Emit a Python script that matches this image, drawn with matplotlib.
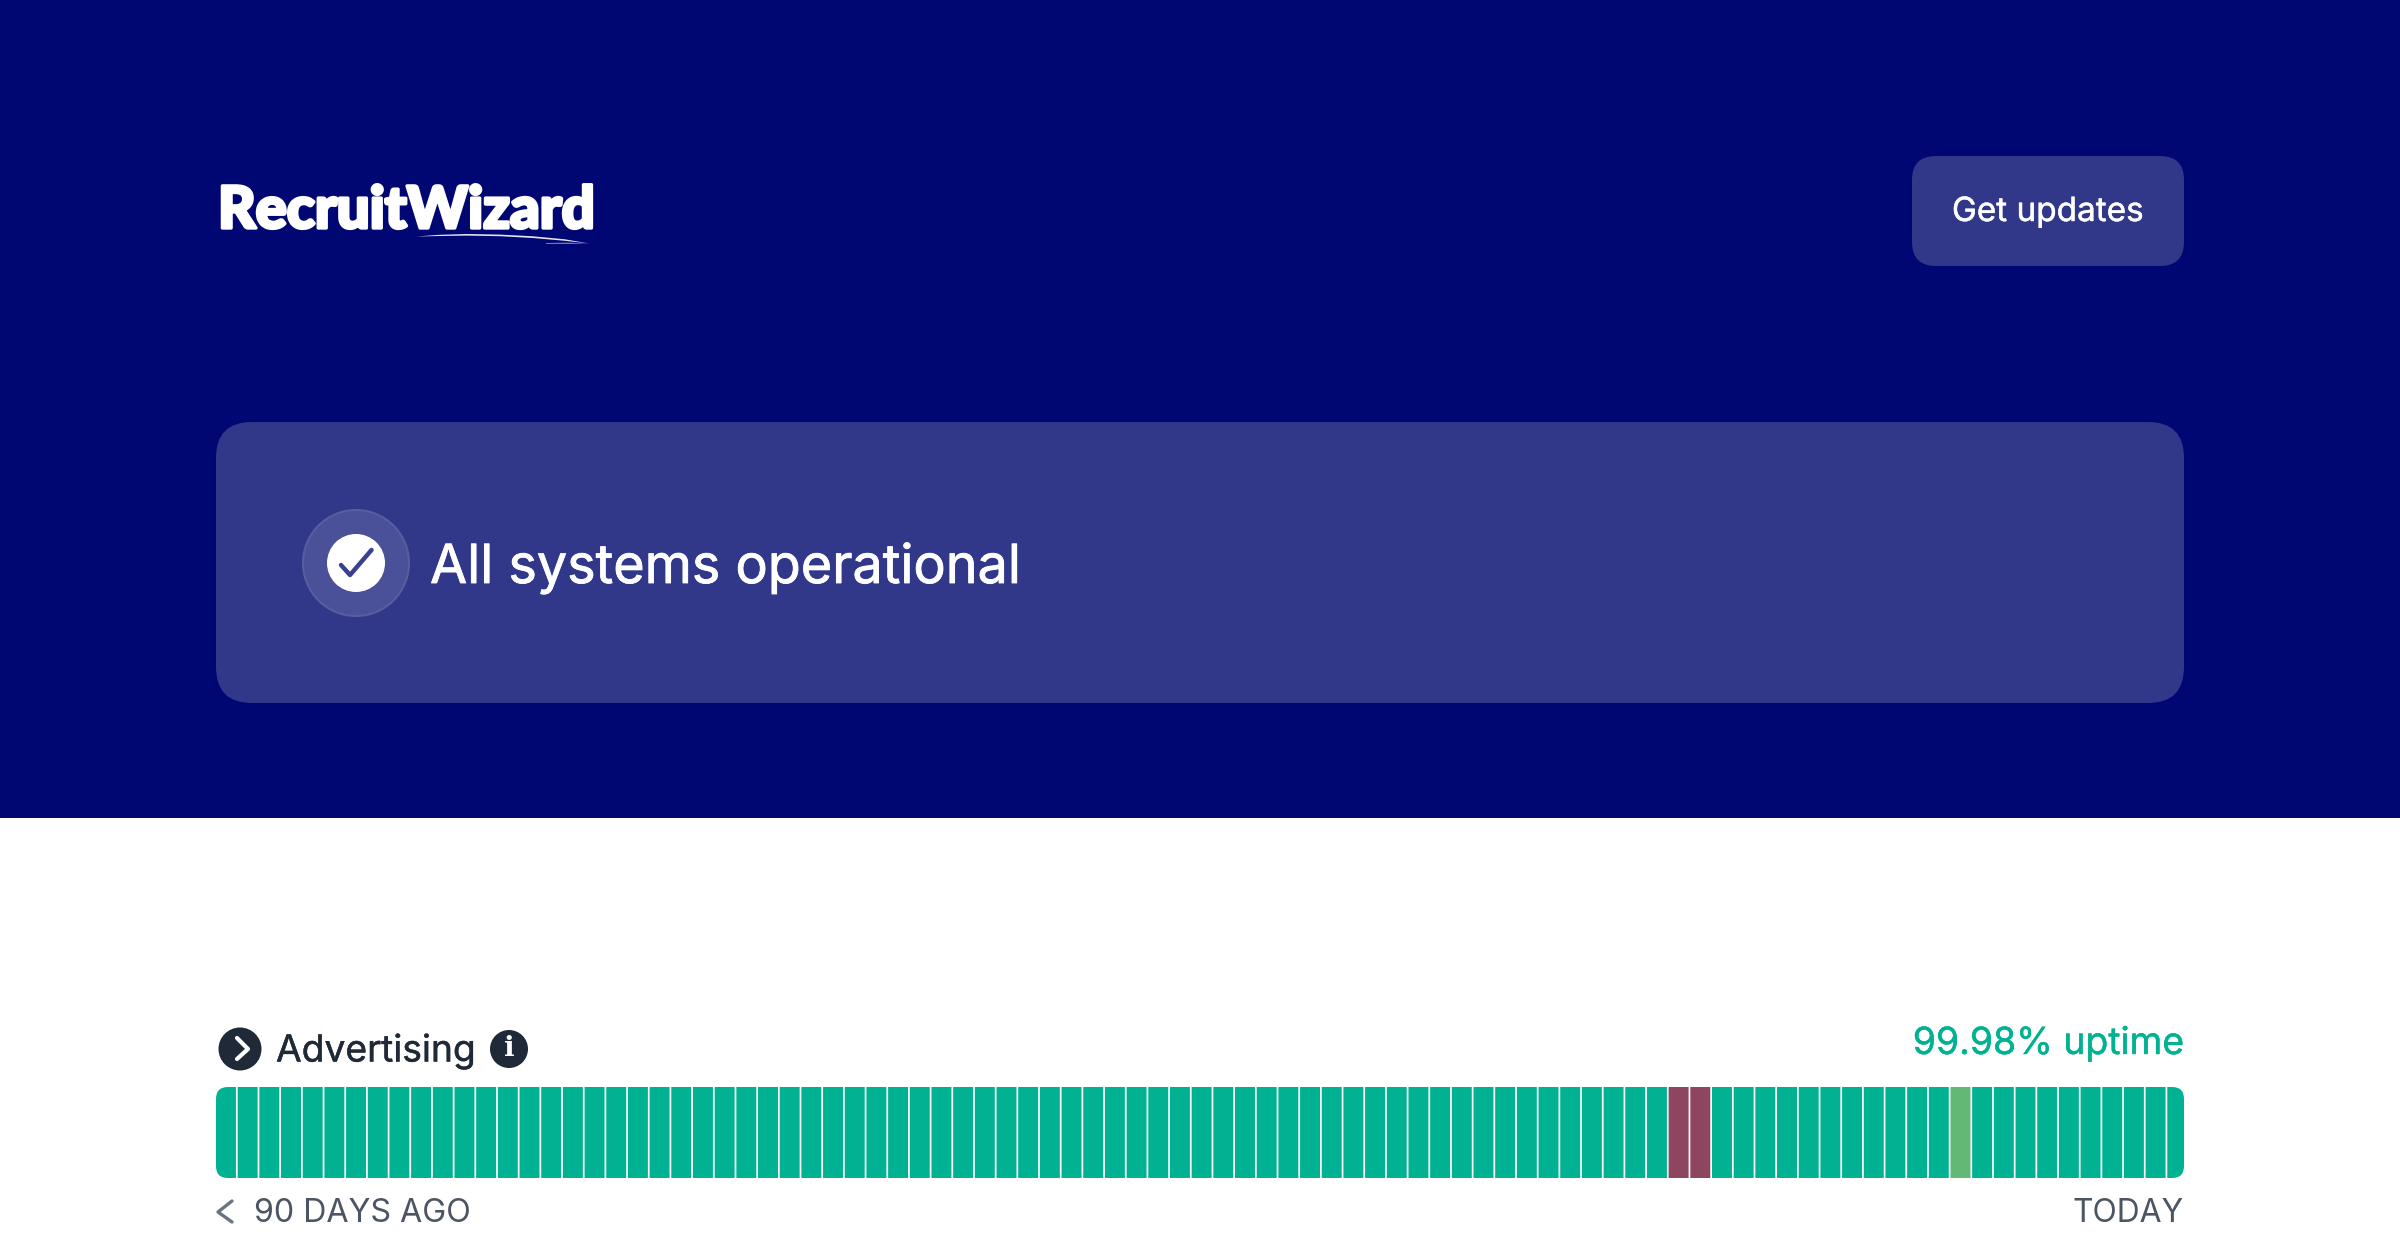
import matplotlib
matplotlib.use("Agg")
import matplotlib.pyplot as plt
import matplotlib.patheffects as pe
from matplotlib.patches import FancyBboxPatch, Circle, Rectangle, Polygon

plt.rcParams['font.family'] = ['Inter', 'DejaVu Sans']

# ---- data
brand = "RecruitWizard"
button_label = "Get updates"
status_label = "All systems operational"
component = "Advertising"
uptime_label = "99.98% uptime"
left_label = "90 DAYS AGO"
right_label = "TODAY"
n_days = 91
# day index -> status; every other day is operational
partial_outage_days = [67, 68]
degraded_days = [80]

NAVY = "#000772"
PANEL = "#313889"
TEAL = "#00B291"
RED = "#8E4560"
LIGHT = "#63B875"
DARK = "#1F2937"
GRAY = "#4B5563"
CHEV = "#6B7280"

days = list(range(n_days))
colors = [RED if d in partial_outage_days else LIGHT if d in degraded_days else TEAL for d in days]

W, H = 2400, 1260
fig = plt.figure(figsize=(24, 12.6), dpi=100, facecolor="white")
ax = fig.add_axes([0, 0, 1, 1])
ax.set_xlim(0, W); ax.set_ylim(H, 0); ax.axis("off")


def rbox(x0, y0, x1, y1, r, **kw):
    p = FancyBboxPatch((x0 + r, y0 + r), x1 - x0 - 2 * r, y1 - y0 - 2 * r,
                       boxstyle=f"round,pad={r},rounding_size={r}", linewidth=0, **kw)
    ax.add_patch(p)
    return p


def bolder(t, w, color):
    t.set_path_effects([pe.withStroke(linewidth=w, foreground=color)])
    return t


ax.add_patch(Rectangle((0, 0), W, 818, color=NAVY, lw=0))
rbox(1912, 156, 2184, 266, 24, facecolor=PANEL)
rbox(216, 422, 2184, 703, 36, facecolor=PANEL)

# logo
bolder(ax.text(218, 228, brand, color="white", fontsize=41.8, fontweight="black", family="Lato",
               ha="left", va="baseline", zorder=3), 2.4, "white")
ax.add_patch(Polygon([(416, 236.5), (440, 234.8), (467, 234), (500, 234.6), (533, 236.3), (565, 239.3),
                      (589, 243.5), (565, 240.8), (533, 238), (500, 236.2), (467, 235.6), (440, 236)],
                     facecolor="white", lw=0, alpha=.9))
ax.add_patch(Polygon([(546, 243), (570, 242.6), (587, 243.5), (570, 244), (546, 244)],
                     facecolor="white", lw=0, alpha=.45))

bolder(ax.text(2048, 208.5, button_label, color="white", fontsize=24, ha="center", va="center_baseline"),
       0.3, "white")

# status icon
ax.add_patch(Circle((356, 563), 53, facecolor="#4B5198", edgecolor="#575D9F", lw=1.5))
ax.add_patch(Circle((356, 563), 29, facecolor="white", lw=0))
ax.plot([341, 350, 371.5], [565, 575, 550], color="#3A4190", lw=3.2, solid_capstyle="round",
        solid_joinstyle="round")
bolder(ax.text(430, 583, status_label, color="white", fontsize=38.8, ha="left", va="baseline"),
       0.6, "white")

# row header
ax.add_patch(Circle((240, 1049), 21.5, facecolor=DARK, lw=0))
ax.plot([237, 248, 237], [1038, 1049, 1059], color="white", lw=3, solid_capstyle="round",
        solid_joinstyle="round")
bolder(ax.text(276, 1061.5, component, color=DARK, fontsize=26.8, ha="left", va="baseline"), 0.3, DARK)
ax.add_patch(Circle((509, 1049), 19, facecolor=DARK, lw=0))
ax.text(509, 1049, "i", color="white", fontsize=20, fontweight="bold", family="DejaVu Serif",
        ha="center", va="center")
bolder(ax.text(2184, 1054, uptime_label, color=TEAL, fontsize=26.9, ha="right", va="baseline"), 0.3, TEAL)

# footer
ax.plot([232, 218, 232], [1201, 1212, 1222], color=CHEV, lw=2.4, solid_capstyle="round",
        solid_joinstyle="round")
ax.text(254, 1221.5, left_label, color=GRAY, fontsize=23.2, ha="left", va="baseline")
ax.text(2184, 1221.5, right_label, color=GRAY, fontsize=22.9, ha="right", va="baseline")

# uptime strip
clip = rbox(216, 1087, 2184, 1178, 12, facecolor="none")
bx = fig.add_axes([216 / W, 1 - 1178 / H, 1968 / W, 91 / H])
gap = 0.08
bx.set_xlim(0, 90.77); bx.set_ylim(0, 1); bx.axis("off")
bars = bx.bar(days, [1] * n_days, width=1 - gap, align="edge", color=colors, linewidth=0)
for b in bars:
    b.set_clip_path(clip)
    b.set_snap(False)

fig.savefig("out.png", dpi=100, facecolor="white")
